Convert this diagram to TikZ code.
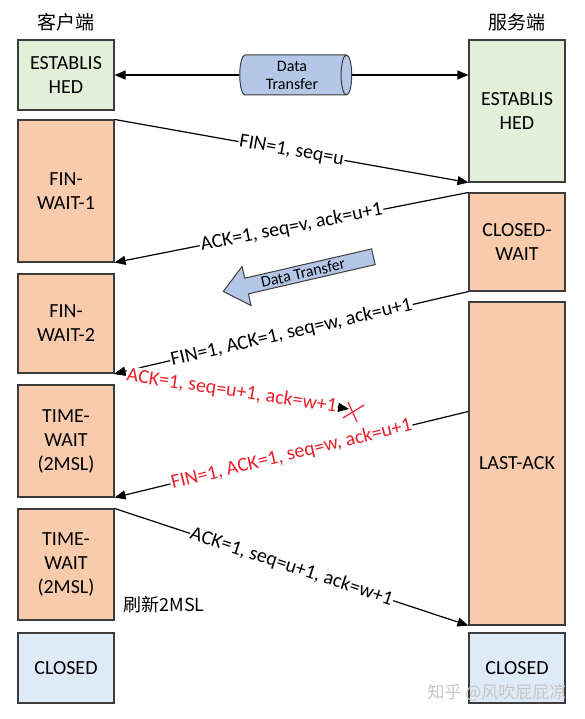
\documentclass[tikz,border=0pt]{standalone}
\usepackage{fontspec}
\setmainfont{Carlito}
\newfontfamily\cjk{Noto Sans CJK SC}
\usetikzlibrary{positioning,arrows.meta,shapes.geometric,shapes.arrows}
\definecolor{boxline}{HTML}{3C3C3C}
\definecolor{estgreen}{HTML}{E2EFD9}
\definecolor{waitpeach}{HTML}{F8CBAD}
\definecolor{closedblue}{HTML}{DEEBF7}
\definecolor{dtblue}{HTML}{B4C7E7}
\definecolor{lostred}{HTML}{E8202A}

\begin{document}
\begin{tikzpicture}[x=1pt,y=-1pt,
  st/.style={draw=boxline, line width=1.1pt, minimum width=96pt, inner sep=0pt,
    align=center, font=\fontsize{20}{24}\selectfont},
  est/.style={st, fill=estgreen},
  wait/.style={st, fill=waitpeach},
  cls/.style={st, fill=closedblue},
  msg/.style={line width=1.2pt, -{Triangle[length=11pt,width=9pt]}},
  lb/.style={sloped, fill=white, inner sep=1pt, font=\fontsize{20}{24}\selectfont},
  hd/.style={font=\cjk\fontsize{19}{22}\selectfont},
]
\useasboundingbox (0,0) rectangle (585,719);
\node[hd] (cli) at (66,22) {客户端};
\node[hd] (srv) at (517,22) {服务端};
% client states
\node[est, minimum height=70pt] (estL) at (66,75) {ESTABLIS\\HED};
\node[wait, minimum height=142pt] (fw1) at (66,191) {FIN-\\WAIT-1};
\node[wait, minimum height=99pt] (fw2) at (66,323.5) {FIN-\\WAIT-2};
\node[wait, minimum height=112pt] (tw1) at (66,441) {TIME-\\WAIT\\(2MSL)};
\node[wait, minimum height=111pt] (tw2) at (66,564.5) {TIME-\\WAIT\\(2MSL)};
\node[cls, minimum height=70pt] (clsL) at (66,668) {CLOSED};
% server states
\node[est, minimum height=142pt] (estR) at (517,111) {ESTABLIS\\HED};
\node[wait, minimum height=98pt] (cw) at (517,242) {CLOSED-\\WAIT};
\node[wait, minimum height=323pt] (la) at (517,463.5) {LAST-ACK};
\node[cls, minimum height=70pt] (clsR) at (517,668) {CLOSED};
% data transfer
\node[cylinder, draw=boxline, fill=dtblue, line width=1pt, minimum height=112pt,
  minimum width=40pt, aspect=0.35, align=center, inner sep=1pt,
  font=\fontsize{16}{18}\selectfont] (dt) at (292,75) {Data\\Transfer};
\draw[msg] (dt.west) -- (dt.west -| estL.east);
\draw[msg] (dt.east) -- (dt.east -| estR.west);
\node[single arrow, shape border rotate=180, rotate=13, draw=boxline, fill=dtblue,
  line width=1pt, minimum height=154pt, single arrow head extend=12pt,
  single arrow tip angle=80, inner sep=2pt,
  font=\fontsize{16}{18}\selectfont] (dt2) at (303,273) {Data Transfer};
% messages
\draw[msg] (fw1.north east) -- node[lb] {FIN=1, seq=u} (estR.south west);
\draw[msg] (cw.north west) -- node[lb] {ACK=1, seq=v, ack=u+1} (fw1.south east);
\draw[msg] (cw.south west) -- node[lb] {FIN=1, ACK=1, seq=w, ack=u+1} (fw2.south east);
\coordinate (lost) at (349,409);
\draw[msg] (fw2.south east) -- node[lb, text=lostred] {ACK=1, seq=u+1, ack=w+1} (lost);
\draw[lostred, line width=1.2pt] (348,402) -- (357,422) (343,418) -- (364,405);
\draw[msg] (la.north west) ++(0,110) -- node[lb, text=lostred] {FIN=1, ACK=1, seq=w, ack=u+1} (tw1.south east);
\draw[msg] (tw2.north east) -- node[lb] {ACK=1, seq=u+1, ack=w+1} (la.south west);
\node[right, font=\cjk\fontsize{18}{22}\selectfont] (rf) at (120,605) {刷新2MSL};
\node[font=\cjk\fontsize{17}{20}\selectfont, text=gray!45] (wm) at (497,693) {知乎 @风吹屁屁凉};
\end{tikzpicture}
\end{document}
